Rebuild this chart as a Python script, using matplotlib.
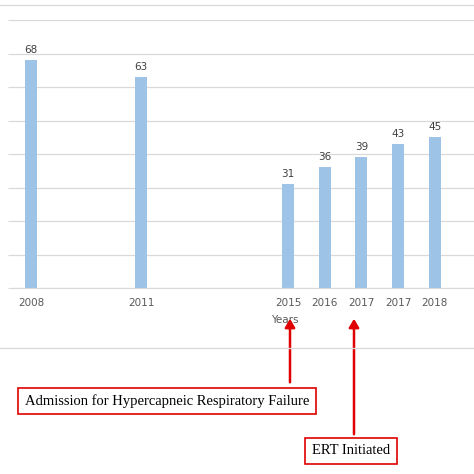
import matplotlib.pyplot as plt
from matplotlib.lines import Line2D

positions = [0, 3, 7, 8, 9, 10, 11]
years = ["2008", "2011", "2015", "2016", "2017", "2017", "2018"]
values = [68, 63, 31, 36, 39, 43, 45]

fig = plt.figure(figsize=(4.74, 4.74), dpi=100)
ax = fig.add_axes([12 / 474, 186 / 474, 462 / 474, 268 / 474])

ax.bar(positions, values, width=0.33, color="#9dc3e6", zorder=2)
for p, v in zip(positions, values):
    ax.text(p, v + 1.5, str(v), ha="center", va="bottom", fontsize=7.5, color="#404040")

ax.set_xlim(-0.52, 12.07)
ax.set_ylim(0, 80)
ax.set_yticks(range(0, 81, 10))
ax.set_yticklabels([])
ax.tick_params(axis="y", length=3, color="#d9d9d9")
ax.set_xticks(positions)
ax.set_xticklabels(years, fontsize=7.5, color="#595959")
ax.tick_params(axis="x", length=0, pad=7)
ax.grid(axis="y", color="#d9d9d9", linewidth=0.9, zorder=0)
for s in ["top", "right", "left"]:
    ax.spines[s].set_visible(False)
ax.spines["bottom"].set_color("#d9d9d9")
ax.text(0.59, -0.12, "Years", transform=ax.transAxes, ha="center", va="center",
        fontsize=7.5, color="#595959")

# outer frame lines of the chart area
for yp in [5, 348]:
    fig.add_artist(Line2D([0, 1], [1 - yp / 474, 1 - yp / 474],
                          color="#d9d9d9", linewidth=0.9))


def fy(px):
    return 1 - px / 474


# arrows and annotation boxes
for xp, y0 in [(290, 385), (354, 437)]:
    fig.add_artist(plt.matplotlib.patches.FancyArrowPatch(
        (xp / 474, fy(y0)), (xp / 474, fy(316)), transform=fig.transFigure,
        arrowstyle="-|>,head_width=3,head_length=5", color="#e00000", linewidth=1.8))

fig.text(167 / 474, fy(401), "Admission for Hypercapneic Respiratory Failure",
         ha="center", va="center", fontsize=10.5, family="Liberation Serif",
         bbox=dict(boxstyle="square,pad=0.45", fc="white", ec="#e00000", lw=1.2))
fig.text(351 / 474, fy(451), "ERT Initiated",
         ha="center", va="center", fontsize=10.5, family="Liberation Serif",
         bbox=dict(boxstyle="square,pad=0.45", fc="white", ec="#e00000", lw=1.2))

fig.savefig("out.png", dpi=100)
